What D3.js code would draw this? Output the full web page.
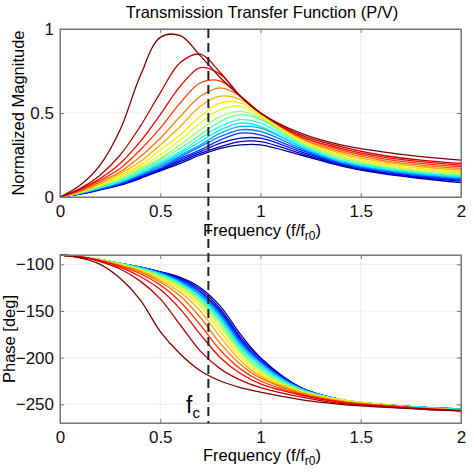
<!DOCTYPE html><html><head><meta charset="utf-8"><script src="https://cdn.jsdelivr.net/npm/d3@7"></script>
<style>body{margin:0;background:#fff}text{font-family:"Liberation Sans",Arial,sans-serif}</style></head><body><svg id="c" width="474" height="474"></svg>
<script>
const freq=[0,0.1,0.2,0.3,0.4,0.5,0.6,0.7,0.8,0.9,1.0,1.2,1.4,1.6,1.8,2.0];
const magnitude=[
[0,0.07,0.19,0.4,0.72,0.95,0.96,0.84,0.71,0.6,0.5,0.38,0.31,0.27,0.24,0.22],
[0,0.05,0.13,0.25,0.42,0.62,0.8,0.85,0.74,0.6,0.5,0.37,0.3,0.25,0.22,0.2],
[0,0.045,0.11,0.2,0.33,0.49,0.66,0.77,0.73,0.6,0.5,0.36,0.29,0.24,0.21,0.19],
[0,0.04,0.1,0.17,0.28,0.41,0.56,0.68,0.69,0.6,0.5,0.36,0.28,0.23,0.2,0.18],
[0,0.035,0.09,0.15,0.24,0.35,0.48,0.6,0.65,0.6,0.5,0.35,0.27,0.22,0.19,0.17],
[0,0.032,0.08,0.14,0.21,0.31,0.42,0.54,0.6,0.58,0.5,0.35,0.26,0.21,0.18,0.16],
[0,0.03,0.075,0.13,0.19,0.28,0.37,0.48,0.56,0.56,0.49,0.34,0.25,0.2,0.17,0.15],
[0,0.028,0.07,0.12,0.18,0.25,0.34,0.44,0.52,0.54,0.48,0.33,0.24,0.19,0.16,0.145],
[0,0.026,0.065,0.11,0.17,0.23,0.31,0.4,0.48,0.51,0.47,0.33,0.24,0.19,0.16,0.14],
[0,0.025,0.06,0.1,0.16,0.22,0.29,0.37,0.45,0.49,0.46,0.32,0.23,0.18,0.15,0.13],
[0,0.024,0.058,0.095,0.15,0.21,0.27,0.35,0.42,0.46,0.44,0.31,0.22,0.175,0.145,0.125],
[0,0.023,0.055,0.09,0.14,0.2,0.26,0.33,0.4,0.44,0.42,0.3,0.215,0.17,0.14,0.12],
[0,0.022,0.052,0.087,0.135,0.19,0.25,0.31,0.38,0.42,0.41,0.3,0.21,0.165,0.135,0.115],
[0,0.021,0.05,0.083,0.13,0.18,0.24,0.3,0.36,0.4,0.39,0.29,0.205,0.16,0.13,0.11],
[0,0.02,0.048,0.08,0.125,0.17,0.23,0.28,0.34,0.38,0.37,0.28,0.2,0.155,0.125,0.105],
[0,0.019,0.046,0.077,0.12,0.165,0.22,0.27,0.32,0.35,0.35,0.27,0.195,0.15,0.12,0.1],
[0,0.018,0.044,0.074,0.115,0.16,0.21,0.26,0.3,0.33,0.33,0.26,0.19,0.145,0.115,0.095],
[0,0.017,0.042,0.07,0.11,0.155,0.2,0.25,0.29,0.31,0.31,0.25,0.185,0.14,0.11,0.085]];
const phase=[
[-90,-93,-100,-115,-138,-172,-196,-214,-225,-232,-237,-245,-250,-253,-255,-257],
[-90,-92,-97,-105,-118,-137,-165,-193,-212,-224,-232,-242,-249,-252,-255,-257],
[-90,-92,-96,-103,-113,-127,-148,-175,-200,-217,-228,-240,-248,-252,-255,-257],
[-90,-92,-96,-102,-110,-122,-140,-165,-192,-212,-225,-239,-247,-251,-254,-256.5],
[-90,-92,-95.5,-101,-108,-119,-134,-157,-185,-207,-222,-238,-247,-251,-254,-256.5],
[-90,-92,-95.5,-101,-107,-117,-130,-150,-178,-203,-220,-237,-246,-251,-254,-256],
[-90,-92,-95,-100,-106,-115,-127,-145,-172,-199,-218,-236,-246,-250,-254,-256],
[-90,-92,-95,-100,-106,-114,-125,-142,-168,-196,-216,-236,-245,-250,-254,-256],
[-90,-92,-95,-100,-105,-113,-123,-140,-165,-194,-214,-235,-245,-250,-254,-256],
[-90,-92,-95,-99,-105,-112,-122,-138,-162,-192,-212,-235,-245,-250,-254,-256],
[-90,-92,-95,-99,-104,-111,-121,-136,-160,-190,-210,-234,-245,-250,-253,-255.5],
[-90,-92,-95,-99,-104,-110,-120,-135,-158,-188,-208,-234,-245,-250,-253,-255.5],
[-90,-92,-95,-99,-103,-110,-119,-133,-156,-186,-207,-233,-245,-250,-253,-255.5],
[-90,-92,-95,-99,-103,-109,-118,-132,-154,-184,-205,-233,-245,-250,-253,-255.5],
[-90,-92,-95,-99,-103,-109,-117,-130,-152,-182,-204,-233,-245,-250,-253,-255],
[-90,-92,-95,-99,-103,-108,-116,-129,-150,-180,-203,-232,-245,-250,-253,-255],
[-90,-92,-95,-99,-103,-108,-115,-127,-148,-178,-201,-232,-245,-251,-254,-255],
[-90,-92,-95,-99,-103,-108,-114,-125,-145,-175,-200,-232,-245,-251,-254,-255]];
const xTicks=[0,0.5,1,1.5,2], magTicks=[0,0.5,1], phaseTicks=[-100,-150,-200,-250];
const fc=0.74;
const svg=d3.select("#c");
const jet=d3.piecewise(d3.interpolateRgb,["#00008f","#0000ff","#0080ff","#00ffff","#80ff80","#ffff00","#ff8000","#ff0000","#800000"]);
const n=magnitude.length;
const color=i=>jet(1-i/(n-1));
const x=d3.scaleLinear().domain([0,2]).range([60,461]);
function panel(top,bottom,dom,ticks,data){
  const y=d3.scaleLinear().domain(dom).range([bottom,top]);
  const g=svg.append("g");
  g.selectAll(".gx").data(xTicks).join("line").attr("x1",d=>x(d)).attr("x2",d=>x(d)).attr("y1",top).attr("y2",bottom).attr("stroke","#ddd").attr("stroke-dasharray","1,1");
  g.selectAll(".gy").data(ticks).join("line").attr("x1",60).attr("x2",461).attr("y1",d=>y(d)).attr("y2",d=>y(d)).attr("stroke","#ddd").attr("stroke-dasharray","1,1");
  const line=d3.line().x((d,i)=>x(freq[i])).y(d=>y(d)).curve(d3.curveCatmullRom.alpha(0.5));
  g.selectAll(".l").data(data.slice().reverse()).join("path").attr("d",line).attr("fill","none").attr("stroke",(d,i)=>color(n-1-i)).attr("stroke-width",1.3);
  g.append("g").attr("transform",`translate(0,${bottom})`).call(d3.axisBottom(x).tickValues(xTicks).tickSize(-4).tickPadding(8).tickFormat(d3.format("")));
  g.append("g").attr("transform","translate(60,0)").call(d3.axisLeft(y).tickValues(ticks).tickSize(-4).tickPadding(6).tickFormat(d3.format("")));
  g.append("g").attr("transform",`translate(461,0)`).call(d3.axisRight(y).tickValues(ticks).tickSize(-4).tickFormat(""));
  g.append("g").attr("transform",`translate(0,${top})`).call(d3.axisTop(x).tickValues(xTicks).tickSize(-4).tickFormat(""));
  g.selectAll(".domain").attr("stroke","#777");
  g.selectAll(".tick line").attr("stroke","#777");
  g.selectAll(".tick text").attr("font-size",17).attr("fill","#111");
  g.append("rect").attr("x",60).attr("y",top).attr("width",401).attr("height",bottom-top).attr("fill","none").attr("stroke","#777");
  return y;
}
panel(29,197,[0,1],magTicks,magnitude);
panel(255,423,[-270,-90],phaseTicks,phase);
svg.append("line").attr("x1",x(fc)).attr("x2",x(fc)).attr("y1",29).attr("y2",423).attr("stroke","#222").attr("stroke-width",2).attr("stroke-dasharray","9,5");
svg.append("text").attr("x",262).attr("y",18).attr("text-anchor","middle").attr("font-size",16.5).text("Transmission Transfer Function (P/V)");
[236,461].forEach(yy=>{const t=svg.append("text").attr("x",262).attr("y",yy).attr("text-anchor","middle").attr("font-size",16.5).text("Frequency (f/f");t.append("tspan").attr("font-size",12).attr("dy",4).text("r0");t.append("tspan").attr("dy",-4).text(")");});
svg.append("text").attr("transform","translate(24,113) rotate(-90)").attr("text-anchor","middle").attr("font-size",16.5).text("Normalized Magnitude");
svg.append("text").attr("transform","translate(15,339) rotate(-90)").attr("text-anchor","middle").attr("font-size",16.5).text("Phase [deg]");
const f=svg.append("text").attr("x",186).attr("y",413).attr("font-size",23).text("f");f.append("tspan").attr("font-size",15).attr("dy",5).text("c");
</script></body></html>
